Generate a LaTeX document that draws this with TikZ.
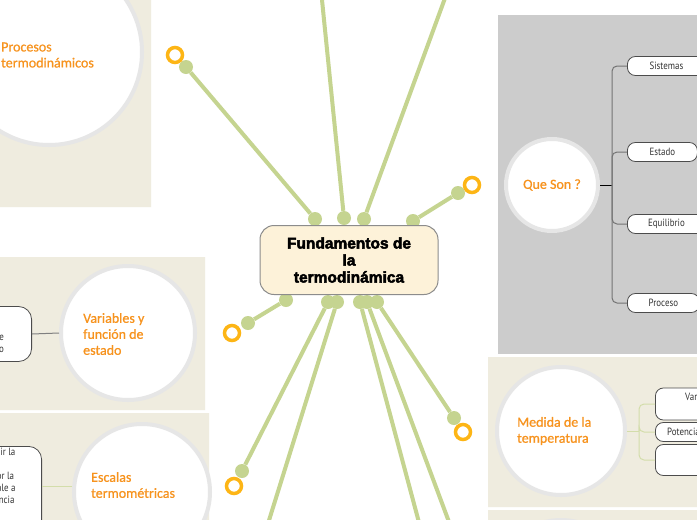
\documentclass[tikz,border=0pt]{standalone}
\usepackage{fontspec}
\setmainfont{Liberation Sans}
\newfontfamily\handfont[FakeBold=0.8]{Carlito}
\newfontfamily\boxfont[FakeStretch=0.85]{PT Sans}
\newfontfamily\titlefont[FakeBold=3]{Liberation Sans Bold}
\usepackage{tikz}
\usetikzlibrary{positioning,shapes}
\definecolor{beige}{RGB}{239,236,223}
\definecolor{panelgray}{RGB}{204,204,204}
\definecolor{ringgray}{RGB}{230,230,230}
\definecolor{branch}{RGB}{197,212,144}
\definecolor{twig}{RGB}{211,221,170}
\definecolor{ringorange}{RGB}{253,181,21}
\definecolor{labelorange}{RGB}{247,147,30}
\definecolor{cream}{RGB}{253,242,217}

\begin{document}
\begin{tikzpicture}[x=1pt, y=-1pt,
      panel/.style={fill=beige, draw=none},
      topic/.style={circle, fill=white, draw=ringgray, line width=4pt, inner sep=0pt},
      topictext/.style={text=labelorange, font=\handfont\fontsize{14}{16}\selectfont, align=left, anchor=west, inner xsep=0pt},
      sub/.style={draw=black!70, fill=white, rounded corners=8pt, line width=0.8pt, inner sep=0pt, anchor=west},
      subtext/.style={font=\boxfont\fontsize{10.5}{12}\selectfont, text=black!80},
      dot/.style={circle, fill=branch, inner sep=0pt, minimum size=14pt},
      ring/.style={circle, draw=ringorange, line width=3.5pt, inner sep=0pt, minimum size=15pt},
      limb/.style={draw=branch, line width=4pt}]
      \useasboundingbox (0, 0) rectangle (697, 520);
      \fill [white] (0, 0) rectangle (697, 520);
      % paneles
      \fill [panel] (0, 0) rectangle (151, 207)
                    (0, 257) rectangle (205, 410)
                    (0, 413) rectangle (209, 530)
                    (488, 357) rectangle (697, 507)
                    (488, 510) rectangle (697, 530);
      \fill [panelgray] (498, 15) rectangle (697, 354);

      % Procesos termodinamicos
      \node [topic, minimum size=186] (proc) at (49, 52) {};
      \node [topictext] (proclbl) at (1, 55) {Procesos\\termodinámicos};

      % Que son ?
      \node [topic, minimum size=92] (qson) at (552, 185) {};
      \node [text=labelorange, font=\handfont\fontsize{14}{16}\selectfont] (qsonlbl) at (552, 185) {Que Son ?};
      \node [sub, subtext, minimum width=78, minimum height=19] (sist) at (627, 66) {Sistemas};
      \node [sub, subtext, minimum width=70, minimum height=19] (est) at (627, 152) {Estado};
      \node [sub, subtext, minimum width=78, minimum height=19] (equi) at (627, 224) {Equilibrio};
      \node [sub, subtext, minimum width=72, minimum height=19] (proce) at (627, 303) {Proceso};
      \draw [black, line width=1pt] (qson.east) -- ++(12, 0) coordinate (qfork);
      \foreach \b in {sist, est, equi, proce}
            \draw [black!55, line width=1pt, rounded corners=5pt] (qfork) |- (\b.west);

      % Medida de la temperatura
      \node [topic, minimum size=128] (medida) at (561, 431) {};
      \node [topictext] (medidalbl) at (517, 431) {Medida de la\\temperatura};
      \node [sub, minimum width=90, minimum height=32] (vari) at (655, 404) {};
      \node [sub, minimum width=90, minimum height=19] (pote) at (655, 432) {};
      \node [sub, minimum width=90, minimum height=31] (otra) at (655, 460) {};
      \node [subtext, anchor=west, inner xsep=0pt] (varilbl) at (685, 397) {Variación};
      \node [subtext, anchor=west, inner xsep=0pt] (potelbl) at (667, 432) {Potencial};
      \draw [twig, line width=1pt] (medida.east) -- ++(12, 0) coordinate (mfork);
      \foreach \b in {vari, pote, otra}
            \draw [twig, line width=1pt, rounded corners=5pt] (mfork) |- (\b.west);
      \node [topic, minimum size=128] (otro) at (561, 584) {};

      % Variables y funcion de estado
      \node [topic, minimum size=134] (vars) at (128, 333) {};
      \node [topictext] (varslbl) at (83, 334) {Variables y\\función de\\estado};
      \node [sub, anchor=east, minimum width=140, minimum height=55, rounded corners=13pt] (varsbox) at (32, 334) {};
      \node [subtext, anchor=east, align=right, inner xsep=0pt] (varsboxlbl) at (4, 343) {magnitudes de\\estado};
      \draw [black!50, line width=1pt] (vars.west) -- (varsbox.east);

      % Escalas termometricas
      \node [topic, minimum size=136] (esc) at (142, 492) {};
      \node [topictext] (esclbl) at (91, 485) {Escalas\\termométricas};
      \node [sub, anchor=north east, minimum width=150, minimum height=100, rounded corners=13pt] (escbox) at (42, 446) {};
      \node [subtext, anchor=north, align=center, inner sep=0pt, font=\boxfont\fontsize{10.5}{12}\selectfont] (escboxlbl) at (-23, 448) {Sirven para medir la\\temperatura\\de un cuerpo por la\\valor que equivale a\\la misma referencia};
      \draw [twig, line width=1pt] (esc.west |- 0, 486) -- (escbox.east |- 0, 486);

      % ramas
      \node [dot] (t1) at (315, 219) {};
      \node [dot] (t2) at (344, 218) {};
      \node [dot] (t3) at (364, 219) {};
      \node [dot] (t4) at (413, 221) {};
      \node [dot] (b1) at (286, 300) {};
      \node [dot] (b2) at (328, 302) {};
      \node [dot] (b3) at (337, 302) {};
      \node [dot] (b4) at (360, 302) {};
      \node [dot] (b5) at (367, 302) {};
      \node [dot] (b6) at (377, 302) {};
      \node [dot] (t1e) at (186, 67) {};
      \node [dot] (t4e) at (458, 193) {};
      \node [dot] (b1e) at (248, 323) {};
      \node [dot] (b2e) at (242, 471) {};
      \node [dot] (b6e) at (454, 418) {};
      \coordinate (t2e) at (321, -10);
      \coordinate (t3e) at (448, -10);
      \coordinate (b3e) at (266, 530);
      \coordinate (b4e) at (421, 530);
      \coordinate (b5e) at (452, 530);
      \draw [limb] (t1) -- (t1e) (t2) -- (t2e) (t3) -- (t3e) (t4) -- (t4e)
                   (b1) -- (b1e) (b2) -- (b2e) (b3) -- (b3e) (b4) -- (b4e)
                   (b5) -- (b5e) (b6) -- (b6e);
      \node [ring] (t1r) at (175, 55) {};
      \node [ring] (t4r) at (472, 185) {};
      \node [ring] (b1r) at (232, 333) {};
      \node [ring] (b2r) at (234, 486) {};
      \node [ring] (b6r) at (463, 432) {};

      % nodo central
      \node [draw=black!45, fill=cream, rounded corners=14pt, line width=1pt,
             minimum width=178, minimum height=69, align=center,
             font=\titlefont\fontsize{15.5}{17}\selectfont] (root) at (349, 260) {Fundamentos de\\la\\termodinámica};
\end{tikzpicture}
\end{document}
